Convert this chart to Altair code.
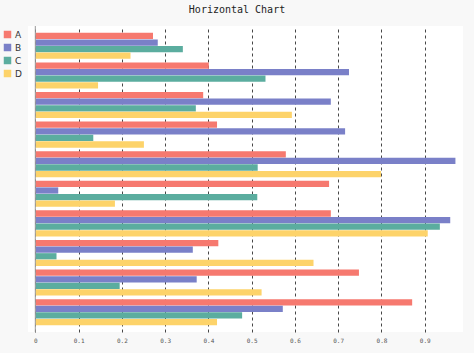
import altair as alt
import pandas as pd

groups = [str(i) for i in range(1, 11)]
series = ["A", "B", "C", "D"]
vals_A = [0.272, 0.401, 0.388, 0.420, 0.579, 0.679, 0.683, 0.423, 0.748, 0.871]
vals_B = [0.283, 0.725, 0.683, 0.716, 0.971, 0.053, 0.959, 0.364, 0.373, 0.572]
vals_C = [0.341, 0.532, 0.371, 0.134, 0.514, 0.513, 0.935, 0.049, 0.195, 0.478]
vals_D = [0.220, 0.145, 0.593, 0.251, 0.799, 0.184, 0.907, 0.643, 0.523, 0.420]
colors = ["#f6796f", "#7a80c8", "#5bad9f", "#fdd36a"]
ticks = [0, 0.1, 0.2, 0.3, 0.4, 0.5, 0.6, 0.7, 0.8, 0.9]

rows = []
for s, vals in zip(series, [vals_A, vals_B, vals_C, vals_D]):
    for g, v in zip(groups, vals):
        rows.append({"group": g, "series": s, "value": v})
df = pd.DataFrame(rows)

xscale = alt.Scale(domain=[-0.0169, 0.9885], nice=False, zero=False)

bars = alt.Chart(df).mark_bar(opacity=1, stroke=None).encode(
    x=alt.X("value:Q", scale=xscale,
            axis=alt.Axis(values=ticks, format="~g", title=None,
                          grid=True, gridDash=[3, 3], gridColor="#333333",
                          gridOpacity=0.9, gridWidth=1,
                          domain=False, ticks=False,
                          labelFont="DejaVu Sans Mono", labelFontSize=6,
                          labelColor="#555555", labelPadding=5)),
    x2=alt.datum(0),
    y=alt.Y("group:N", sort=groups, axis=None,
            scale=alt.Scale(paddingInner=0.12, paddingOuter=0.23)),
    yOffset=alt.YOffset("series:N", sort=series,
                        scale=alt.Scale(paddingInner=0.05)),
    color=alt.Color("series:N", sort=series,
                    scale=alt.Scale(domain=series, range=colors),
                    legend=alt.Legend(title=None, orient="none",
                                      legendX=-25, legendY=4,
                                      symbolType="square", symbolSize=56,
                                      symbolStrokeWidth=0, symbolOpacity=1,
                                      labelFont="DejaVu Sans", labelFontSize=9,
                                      labelColor="#333333", rowPadding=3,
                                      labelOffset=3)),
)

zero_df = pd.DataFrame({"v": [0.0]})
zero_line = alt.Chart(zero_df).mark_rule(color="#999999", strokeWidth=1).encode(
    x=alt.X("v:Q", scale=xscale)
)

chart = alt.layer(bars, zero_line).properties(
    width=435, height=306,
    title=alt.Title("Horizontal Chart", font="DejaVu Sans Mono", fontSize=10,
                    fontWeight="normal", color="#222222", offset=11, dx=-8.5),
    background="#f8f8f8",
    padding={"left": 28, "top": 26, "right": 11, "bottom": 21},
    autosize=alt.AutoSizeParams(type="none"),
).configure_view(fill="white", stroke=None)

chart.save("out.html", embed_options={"renderer": "svg", "actions": False})
